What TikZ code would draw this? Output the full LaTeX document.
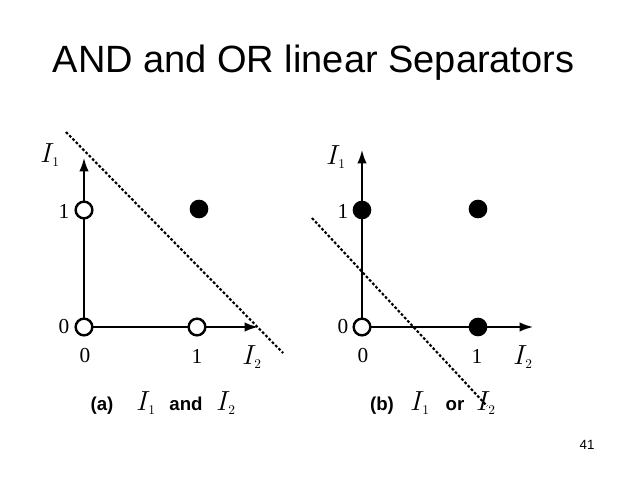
\documentclass[tikz,border=0pt]{standalone}
\usepackage{fontspec}
\setmainfont{Liberation Serif}
\newfontfamily\arial{Liberation Sans}
\usetikzlibrary{arrows.meta}
\begin{document}
\begin{tikzpicture}[x=0.75pt,y=-0.75pt,
  axis/.style={line width=1.2pt,-{Latex[length=10pt,width=7pt]}},
  opt/.style={circle,draw,line width=1.8pt,fill=white,minimum size=12.5pt,inner sep=0pt},
  fpt/.style={circle,fill=black,minimum size=14pt,inner sep=0pt},
  sep/.style={line width=1.6pt,dash pattern=on 2pt off 1.5pt},
  lab/.style={font=\fontsize{16}{16}\selectfont},
  vl/.style={font=\fontsize{20}{20}\selectfont\itshape,anchor=base},
  captxt/.style={font=\arial\bfseries\fontsize{14}{14}\selectfont,anchor=base}]
\useasboundingbox (0,0) rectangle (638,478);
\node[anchor=west,font=\arial\fontsize{28.5}{28.5}\selectfont] (title) at (48,63) {AND and OR linear Separators};
\node[font=\arial\fontsize{10}{10}\selectfont] (pg) at (587,445) {41};
% left
\coordinate (ao) at (84,327);
\coordinate (ay) at (84,158);
\coordinate (ax) at (258,327);
\draw[axis] (ao) -- (ay);
\draw[axis] (ao) -- (ax);
\node[opt] (a00) at (84,327) {};
\node[opt] (a01) at (84,210) {};
\node[opt] (a10) at (197,327) {};
\node[fpt] (a11) at (199,209) {};
\coordinate (as) at (66,132); \coordinate (ae) at (283,353);
\draw[sep] (as) -- (ae);
\node[vl] (aI1) at (50,162) {$I_{\scriptscriptstyle 1}$};
\node[lab] (al1) at (64,211) {1};
\node[lab] (al0) at (64,327) {0};
\node[lab] (ab0) at (85,356) {0};
\node[lab] (ab1) at (197,356) {1};
\node[vl] (aI2) at (252,364) {$I_{\scriptscriptstyle 2}$};
\node[captxt] (acap) at (102,410) {(a)};
\node[vl] (ac1) at (146,410) {$I_{\scriptscriptstyle 1}$};
\node[captxt] (acand) at (186,410) {and};
\node[vl] (ac2) at (226,410) {$I_{\scriptscriptstyle 2}$};
% right
\coordinate (bo) at (362,327);
\coordinate (by) at (362,150);
\coordinate (bx) at (533,327);
\draw[axis] (bo) -- (by);
\draw[axis] (bo) -- (bx);
\node[opt] (b00) at (362,327) {};
\node[fpt] (b01) at (362,210) {};
\node[fpt] (b10) at (478,327) {};
\node[fpt] (b11) at (478,209) {};
\coordinate (bs) at (312,218); \coordinate (be) at (487,406);
\draw[sep] (bs) -- (be);
\node[vl] (bI1) at (336,164) {$I_{\scriptscriptstyle 1}$};
\node[lab] (bl1) at (343,211) {1};
\node[lab] (bl0) at (343,327) {0};
\node[lab] (bb0) at (363,356) {0};
\node[lab] (bb1) at (477,356) {1};
\node[vl] (bI2) at (523,364) {$I_{\scriptscriptstyle 2}$};
\node[captxt] (bcap) at (382,410) {(b)};
\node[vl] (bc1) at (420,410) {$I_{\scriptscriptstyle 1}$};
\node[captxt] (bcor) at (455,410) {or};
\node[vl] (bc2) at (486,410) {$I_{\scriptscriptstyle 2}$};
\end{tikzpicture}
\end{document}
